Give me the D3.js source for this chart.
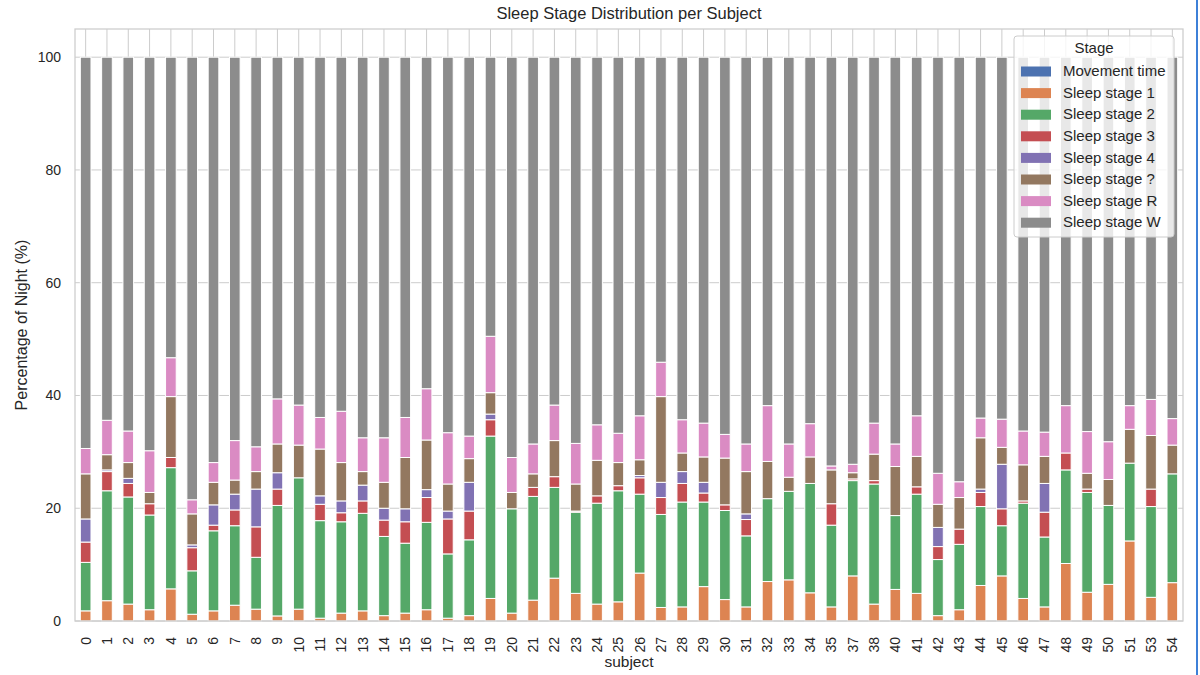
<!DOCTYPE html>
<html>
<head>
<meta charset="utf-8">
<script src="https://cdn.jsdelivr.net/npm/d3@7"></script>
<style>
  body { margin: 0; background: #fff; }
  text { font-family: "Liberation Sans", Arial, sans-serif; fill: #262626; }
</style>
</head>
<body>
<div id="chart"></div>
<script>
// subjects shown on the x axis (36, 39, 52 are missing in the recording set)
var subjects = ["0","1","2","3","4","5","6","7","8","9","10","11","12","13","14","15","16","17","18","19",
  "20","21","22","23","24","25","26","27","28","29","30","31","32","33","34","35","37","38","40","41",
  "42","43","44","45","46","47","48","49","50","51","53","54"];

var stages = ["Movement time","Sleep stage 1","Sleep stage 2","Sleep stage 3","Sleep stage 4",
  "Sleep stage ?","Sleep stage R","Sleep stage W"];
var stageColors = ["#4c72b0","#dd8452","#55a868","#c44e52","#8172b3","#937860","#da8bc3","#8c8c8c"];

// percentage of night per stage, one value per subject
var movementTime = [0,0,0,0,0,0,0,0,0,0, 0,0,0,0,0,0,0,0,0,0, 0,0,0,0,0,0,0,0,0,0, 0,0,0,0,0,0,0,0,0,0, 0,0,0,0,0,0,0,0,0,0, 0,0];
var stage1 = [1.8,3.6,3.0,2.0,5.7,1.2,1.8,2.8,2.1,0.9, 2.1,0.5,1.4,1.8,0.95,1.4,2.0,0.5,0.95,4.0,
  1.4,3.7,7.6,4.9,3.0,3.4,8.5,2.4,2.5,6.1, 3.8,2.5,7.0,7.3,5.0,2.5,8.0,3.0,5.6,4.9,
  0.95,2.0,6.3,8.0,4.0,2.5,10.2,5.1,6.5,14.2, 4.2,6.8];
var stage2 = [8.6,19.5,19.0,16.8,21.5,7.7,14.2,14.1,9.2,19.6, 23.3,17.3,16.2,17.3,14.05,12.4,15.5,11.4,13.45,28.8,
  18.5,18.4,16.1,14.4,17.9,19.7,14.0,16.5,18.6,15.0, 15.8,12.6,14.7,15.7,19.4,14.5,16.9,21.3,13.1,17.6,
  9.95,11.6,14.0,8.9,16.9,12.4,16.6,17.7,14.0,13.8, 16.1,19.3];
var stage3 = [3.6,3.4,2.4,2.0,1.8,4.1,1.0,2.8,5.4,2.9, 0,2.9,1.6,2.2,2.9,3.8,4.4,6.2,5.1,2.9,
  0,1.6,1.9,0.2,1.3,0.9,2.9,3.0,3.3,1.6, 1.0,2.9,0,0,0,3.8,0.3,0.6,0,1.3,
  2.3,2.7,2.5,3.0,0.4,4.4,3.0,0.6,0,0, 3.1,0];
var stage4 = [4.1,0.3,0.9,0,0,0.5,3.6,2.8,6.7,2.9, 0,1.5,2.1,2.8,2.1,2.3,1.4,1.4,5.1,1.0,
  0,0,0,0,0,0,0.4,2.7,2.1,1.9, 0,1.0,0,0,0,0,0,0,0,0,
  3.4,0,0.6,7.9,0,5.1,0,0,0,0, 0,0];
var stageUnknown = [8.0,2.7,2.8,2.0,10.8,5.5,4.0,2.5,3.1,5.1, 5.8,8.3,6.8,2.4,4.6,9.1,8.8,4.8,4.2,3.8,
  2.9,2.4,6.4,4.8,6.3,4.1,2.8,15.2,3.3,4.5, 8.3,7.5,6.6,2.5,4.7,6.0,1.1,4.7,8.7,5.4,
  4.1,5.6,9.1,3.0,6.4,4.8,0,2.8,4.6,6.0, 9.5,5.1];
var stageR = [4.5,6.1,5.6,7.4,6.9,2.5,3.5,7.0,4.4,8.0, 7.1,5.6,9.1,6.0,7.9,7.1,9.1,9.1,4.0,10.0,
  6.2,5.3,6.3,7.2,6.3,5.2,7.8,6.1,5.9,6.0, 4.2,4.9,9.9,5.9,5.9,0.7,1.5,5.5,4.0,7.2,
  5.5,2.8,3.5,5.0,6.0,4.3,8.4,7.4,6.7,4.2, 6.4,4.7];
var stageW = [69.4,64.4,66.3,69.8,53.3,78.5,71.9,68.0,69.1,60.6, 61.7,63.9,62.8,67.5,67.5,63.9,58.8,66.6,67.2,49.5,
  71.0,68.6,61.7,68.5,65.2,66.7,63.6,54.1,64.3,64.9, 66.9,68.6,61.8,68.6,65.0,72.5,72.2,64.9,68.6,63.6,
  73.8,75.3,64.0,64.2,66.3,66.5,61.8,66.4,68.2,61.8, 60.7,64.1];

var yTicks = [0, 20, 40, 60, 80, 100];

var series = [movementTime, stage1, stage2, stage3, stage4, stageUnknown, stageR, stageW];
var rows = subjects.map(function(s, i) {
  var r = {subject: s};
  stages.forEach(function(st, j) { r[st] = series[j][i]; });
  return r;
});

//set dimensions and margins of graph
var margin = {top: 29, right: 17, bottom: 54, left: 75},
    width = 1200 - margin.left - margin.right,
    height = 675 - margin.top - margin.bottom;

var root = d3.select("#chart").append("svg")
    .attr("width", 1200)
    .attr("height", 675);

var svg = root.append("g")
    .attr("transform", "translate(" + margin.left + "," + margin.top + ")");

var x = d3.scaleBand().domain(subjects).range([0, width]).paddingInner(0.5).paddingOuter(0.25);
var y = d3.scaleLinear().domain([0, 105]).range([height, 0]);

//grid lines
svg.append("g").selectAll("line.vgrid").data(subjects).enter().append("line")
   .attr("x1", function(d) { return x(d) + x.bandwidth() / 2; })
   .attr("x2", function(d) { return x(d) + x.bandwidth() / 2; })
   .attr("y1", 0).attr("y2", height)
   .attr("stroke", "#cccccc").attr("stroke-width", 1);
svg.append("g").selectAll("line.hgrid").data(yTicks).enter().append("line")
   .attr("x1", 0).attr("x2", width)
   .attr("y1", function(d) { return y(d); })
   .attr("y2", function(d) { return y(d); })
   .attr("stroke", "#cccccc").attr("stroke-width", 1);

//stacked bars
var stacked = d3.stack().keys(stages)(rows);
svg.append("g").selectAll("g").data(stacked).enter().append("g")
   .attr("fill", function(d, i) { return stageColors[i]; })
   .selectAll("rect").data(function(d) { return d; }).enter().append("rect")
   .attr("x", function(d) { return x(d.data.subject); })
   .attr("width", x.bandwidth())
   .attr("y", function(d) { return y(d[1]); })
   .attr("height", function(d) { return Math.max(0, y(d[0]) - y(d[1])); })
   .attr("stroke", "#ffffff").attr("stroke-width", 1);

//axes
var yAxis = svg.append("g").call(d3.axisLeft(y).tickValues(yTicks).tickSize(0).tickPadding(14));
yAxis.select(".domain").remove();
yAxis.selectAll("text").style("font-size", "14px").style("font-family", "'Liberation Sans', Arial, sans-serif").attr("fill", "#262626");

var xAxis = svg.append("g").attr("transform", "translate(0," + height + ")")
   .call(d3.axisBottom(x).tickSize(0).tickPadding(0));
xAxis.select(".domain").remove();
xAxis.selectAll("text")
   .style("font-size", "14px").style("font-family", "'Liberation Sans', Arial, sans-serif").attr("fill", "#262626")
   .attr("transform", "rotate(-90)")
   .attr("x", -16).attr("y", 0).attr("dy", "0.35em")
   .style("text-anchor", "end");

//frame
svg.append("rect").attr("width", width).attr("height", height)
   .attr("fill", "none").attr("stroke", "#cccccc").attr("stroke-width", 1.25);

//title
svg.append("text")
   .attr("x", width / 2).attr("y", -10)
   .style("text-anchor", "middle").style("font-size", "16.5px")
   .text("Sleep Stage Distribution per Subject");

//label for x axis
svg.append("text")
   .attr("x", width / 2).attr("y", height + 46)
   .style("text-anchor", "middle").style("font-size", "15.5px")
   .text("subject");

//label for y axis
svg.append("text")
   .attr("transform", "rotate(-90)")
   .attr("x", 0 - height / 2).attr("y", -48)
   .style("text-anchor", "middle").style("font-size", "16px")
   .text("Percentage of Night (%)");

//legend
var legend = root.append("g").attr("transform", "translate(1014,36)");
legend.append("rect")
   .attr("width", 160).attr("height", 201).attr("rx", 3)
   .attr("fill", "#ffffff").attr("fill-opacity", 0.8)
   .attr("stroke", "#cccccc").attr("stroke-width", 1);
legend.append("text").attr("x", 80).attr("y", 17).style("text-anchor", "middle")
   .style("font-size", "15px").text("Stage");
var item = legend.selectAll("g.item").data(stages).enter().append("g")
   .attr("transform", function(d, i) { return "translate(0," + (35 + i * 21.6) + ")"; });
item.append("rect").attr("x", 7).attr("y", -4.5).attr("width", 30).attr("height", 10)
   .attr("fill", function(d, i) { return stageColors[i]; });
item.append("text").attr("x", 49).attr("y", 0).attr("dy", "0.35em")
   .style("font-size", "15px").text(function(d) { return d; });

//window edge
root.append("rect").attr("x", 1196).attr("y", 0).attr("width", 2).attr("height", 675).attr("fill", "#3d80d8");
</script>
</body>
</html>
